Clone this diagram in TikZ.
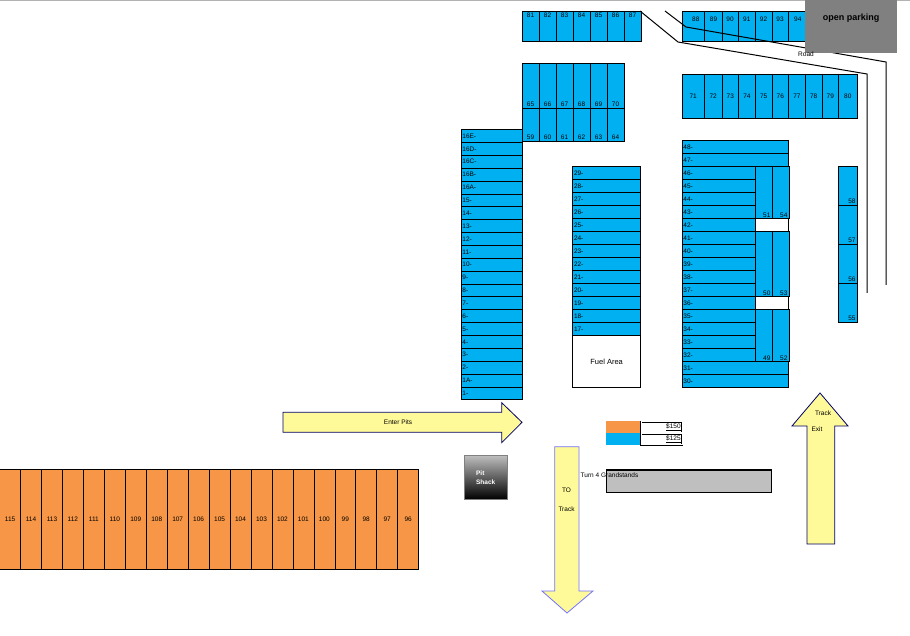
\documentclass[tikz,border=0pt]{standalone}
\usepackage{fontspec}
\setmainfont{Liberation Sans}
\begin{document}
\begin{tikzpicture}[x=1pt,y=-1pt,
  bl/.style={draw=black,fill=cyan!70!blue!80,line width=0.6pt,inner sep=0pt,anchor=north west},
  lb/.style={font=\fontsize{6.5}{7.5}\selectfont,inner sep=1.5pt},
  arr/.style={fill=yellow!40,draw=blue!40!black,line width=0.8pt}]
\definecolor{pblue}{HTML}{00B0F0}
\definecolor{porange}{HTML}{F79646}
\definecolor{pyellow}{HTML}{FFFF99}
\tikzset{bl/.append style={fill=pblue},or/.style={bl,fill=porange},road/.style={line width=1pt}}
\useasboundingbox (0,0) rectangle (910,636);
\draw[gray!60,line width=1pt] (0,0.5) -- (910,0.5);
% road
\coordinate (r1) at (640,11); \coordinate (r2) at (678,42); \coordinate (r3) at (867,74); \coordinate (r4) at (867,293);
\coordinate (s1) at (665,11); \coordinate (s2) at (686,27); \coordinate (s3) at (886,62); \coordinate (s4) at (886,285);
% 81-87
\foreach \n [count=\i from 0] in {81,...,87}
  \node[bl,minimum width=17pt,minimum height=30pt,label={[lb,anchor=north]north:\n}] (c\n) at (521.7+17*\i,11) {};
% 88-94
\foreach \n/\a/\b in {88/681.7/704,89/704/721.7,90/721.7/738.3,91/738.3/755,92/755/771.7,93/771.7/788.3,94/788.3/806}
  \node[bl,minimum width={\b-\a},minimum height=30pt,label={[lb,anchor=north,yshift=-4pt,xshift={(\b-\a-17)/2}]north:\n}] (c\n) at (\a,11) {};
\draw[road] (r1) -- (r2) -- (r3) -- (r4);
\draw[road] (s1) -- (s2) -- (s3) -- (s4);
\node[fill=gray,minimum width=92pt,minimum height=53pt,anchor=north west,inner sep=0pt] (op) at (805,0) {};
\node[font=\bfseries\fontsize{9}{10}\selectfont,anchor=north] (opt) at (op.north) [yshift=-10pt] {open parking};
\node[lb] (road) at (806,54) {Road};
% 65-70, 59-64
\foreach \n [count=\i from 0] in {65,...,70}
  \node[bl,minimum width=17pt,minimum height=45pt,label={[lb,anchor=south]south:\n}] (c\n) at (521.7+17*\i,63) {};
\foreach \n [count=\i from 0] in {59,...,64}
  \node[bl,minimum width=17pt,minimum height=33pt,label={[lb,anchor=south]south:\n}] (c\n) at (521.7+17*\i,108) {};
% 71-80
\foreach \n/\a/\b in {71/681.7/704,72/704/721.7,73/721.7/738.3,74/738.3/755,75/755/771.7,76/771.7/788.3,77/788.3/805,78/805/821.7,79/821.7/838.3,80/838.3/856.7}
  \node[bl,minimum width={\b-\a},minimum height=44pt,label={[lb,anchor=center]center:\n}] (c\n) at (\a,74) {};
% left column
\foreach \n [count=\i from 0] in {16E,16D,16C,16B,16A,15,14,13,12,11,10,9,8,7,6,5,4,3,2,1A,1}
  \node[bl,minimum width=61pt,minimum height=12.86pt,label={[lb,anchor=west]west:\n-}] (l\n) at (460.7,129.3+12.86*\i) {};
% middle column
\foreach \n [count=\i from 0] in {29,28,...,17}
  \node[bl,minimum width=68pt,minimum height=13.02pt,label={[lb,anchor=west]west:\n-}] (m\n) at (572.3,166+13.02*\i) {};
\node[draw,line width=0.6pt,anchor=north west,minimum width=68pt,minimum height=52pt,inner sep=0pt,font=\fontsize{7.5}{8}\selectfont] (fuel) at (572.3,335.3) {Fuel Area};
% right column
\foreach \n [count=\i from 0] in {48,47,...,30}{
  \pgfmathsetmacro{\w}{(\n==48 || \n==47 || \n==31 || \n==30) ? 106.6 : 73}
  \node[bl,minimum width=\w pt,minimum height=13pt,label={[lb,anchor=west]west:\n-}] (r\n) at (681.7,140.3+13*\i) {};}
\foreach \n/\x/\y/\h in {51/754.7/166.3/52,54/771.7/166.3/52,50/754.7/231.3/65,53/771.7/231.3/65,49/754.7/309.3/52,52/771.7/309.3/52}
  \node[bl,minimum width=16.8pt,minimum height=\h pt,label={[lb,anchor=south east]south east:\n}] (t\n) at (\x,\y) {};
\node[draw,fill=white,line width=0.6pt,anchor=north west,minimum width=33.6pt,minimum height=13pt,inner sep=0pt] (w42) at (754.7,218.3) {};
\node[draw,fill=white,line width=0.6pt,anchor=north west,minimum width=33.6pt,minimum height=13pt,inner sep=0pt] (w36) at (754.7,296.3) {};
\foreach \n [count=\i from 0] in {58,57,56,55}
  \node[bl,minimum width=18.4pt,minimum height=39pt,label={[lb,anchor=south east]south east:\n}] (c\n) at (838.3,166+39*\i) {};
% Enter Pits arrow
\draw[arr] (283,412.3) -- (501.7,412.3) -- (501.7,402.7) -- (522,422.3) -- (501.7,442.7) -- (501.7,432.3) -- (283,432.3) -- cycle;
\node[lb] (ep) at (398,422.3) {Enter Pits};
% legend
\node[anchor=north west,fill=porange,minimum width=34pt,minimum height=11.7pt,inner sep=0pt] (lo) at (606,421) {};
\node[anchor=north west,fill=pblue,minimum width=34pt,minimum height=12pt,inner sep=0pt] (lbb) at (606,432.7) {};
\node[anchor=north west,draw,double,double distance=0.8pt,minimum width=41pt,minimum height=11pt,inner sep=0pt] (p150) at (641,421.5) {};
\node[lb,anchor=east] at (p150.east) {\underline{\$150}};
\node[anchor=north west,draw,double,double distance=0.8pt,minimum width=41pt,minimum height=11pt,inner sep=0pt] (p125) at (641,433.5) {};
\node[lb,anchor=east] at (p125.east) {\underline{\$125}};
% Pit shack
\node[anchor=north west,minimum width=43pt,minimum height=44pt,inner sep=0pt,top color=gray!50,bottom color=black,draw=gray] (ps) at (464,455) {};
\node[lb,text=white,align=left,font=\bfseries\fontsize{6.5}{9}\selectfont] at (ps) {Pit\\Shack};
% TO Track arrow
\draw[arr,draw=blue!55!white] (554.7,446.7) -- (579,446.7) -- (579,591) -- (593,591) -- (567,613) -- (542,591) -- (554.7,591) -- cycle;
\node[lb] (to) at (566.5,490) {TO};
\node[lb] (tt) at (566.5,509) {Track};
% grandstands
\node[anchor=north west,draw,line width=1.6pt,fill=gray!50,minimum width=165pt,minimum height=22.7pt,inner sep=0pt] (gs) at (605.7,469) {};
\node[lb,anchor=west] (gst) at (579,475) {Turn 4 Grandstands};
% Track exit arrow
\draw[arr] (807,544) -- (807,426) -- (792,426) -- (820,393) -- (848,426) -- (834.7,426) -- (834.7,544) -- cycle;
\node[lb] (te1) at (823,413) {Track};
\node[lb] (te2) at (817,429) {Exit};
% orange row
\foreach \n [count=\i from 0] in {115,114,...,96}
  \node[or,minimum width=20.95pt,minimum height=100.3pt,label={[lb,anchor=center]center:\n}] (o\n) at (-0.7+20.95*\i,469) {};
\end{tikzpicture}
\end{document}
